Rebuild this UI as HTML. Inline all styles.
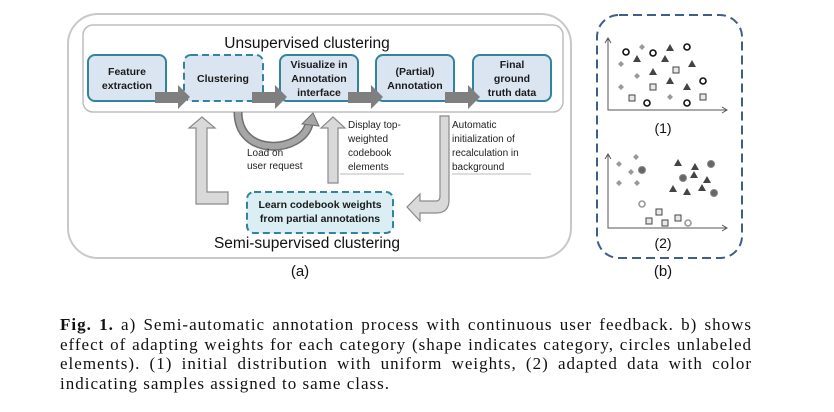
<!DOCTYPE html>
<html><head><meta charset="utf-8"><style>
html,body{margin:0;padding:0;background:#fff;}
svg{display:block;position:absolute;left:0;top:0;}
.b{font-family:"Liberation Sans",sans-serif;font-weight:bold;font-size:10.5px;fill:#1a1a1a;text-anchor:middle;}
.s{font-family:"Liberation Sans",sans-serif;font-size:10px;fill:#222;}
.cap{position:absolute;left:60px;top:315px;width:692px;font-family:"Liberation Serif",serif;font-size:17px;line-height:19.5px;color:#111;letter-spacing:1px;}
.cap div{text-align:justify;text-align-last:justify;white-space:nowrap;}
.cap div.l{text-align-last:left;}
</style></head><body>
<svg width="834" height="412" viewBox="0 0 834 412" xmlns="http://www.w3.org/2000/svg">
<rect x="68" y="14" width="503" height="244" rx="30" fill="#fff" stroke="#c8c8c8" stroke-width="2"/>
<rect x="83" y="25" width="480" height="87" rx="10" fill="#fff" stroke="#bdbdbd" stroke-width="1.5"/>
<text x="307" y="48" font-family="Liberation Sans,sans-serif" font-size="15.5" text-anchor="middle" fill="#111">Unsupervised clustering</text>
<g fill="#dbe5f1" stroke="#31849b" stroke-width="2">
<rect x="88" y="55" width="78" height="46" rx="7"/>
<rect x="184" y="55" width="79" height="46" rx="7" stroke-dasharray="7,4"/>
<rect x="280" y="55" width="78" height="46" rx="7"/>
<rect x="376" y="55" width="78" height="46" rx="7"/>
<rect x="473" y="55" width="78" height="46" rx="7"/>
</g>
<g fill="#7f7f7f">
<polygon points="155,92 178,92 178,85 190,97 178,109 178,103 155,103"/>
<polygon points="252,92 275,92 275,85 287,97 275,109 275,103 252,103"/>
<polygon points="348,92 371,92 371,85 383,97 371,109 371,103 348,103"/>
<polygon points="445,92 468,92 468,85 480,97 468,109 468,103 445,103"/>
</g>
<text class="b" x="127" y="75">Feature</text><text class="b" x="127" y="89">extraction</text>
<text class="b" x="223" y="82">Clustering</text>
<text class="b" x="319" y="68">Visualize in</text><text class="b" x="319" y="82">Annotation</text><text class="b" x="319" y="96">interface</text>
<text class="b" x="415" y="75">(Partial)</text><text class="b" x="415" y="89">Annotation</text>
<text class="b" x="512" y="68">Final</text><text class="b" x="512" y="82">ground</text><text class="b" x="512" y="96">truth data</text>
<g fill="#d9d9d9" stroke="#8a8a8a" stroke-width="1.2">
<polygon points="202,117 215,128 207,128 207,192 228,192 228,204 196,204 196,128 189,128"/>
<polygon points="333,117 345,128 338,128 338,183 328,183 328,128 321,128"/>
<path d="M440,116 L449,116 L449,200 Q449,213 436,213 L420,213 L420,221 L407,207 L420,194 L420,201 L436,201 Q440,201 440,196 Z"/>
</g>
<path d="M238,112 C238,158 302,153 309,124" fill="none" stroke="#6f6f6f" stroke-width="9"/>
<path d="M238,112 C238,158 302,153 309,124" fill="none" stroke="#a6a6a6" stroke-width="6"/>
<polygon points="313,113 319,126 302,124" fill="#a6a6a6" stroke="#6f6f6f" stroke-width="1"/>
<text class="s" x="247" y="156">Load on</text><text class="s" x="247" y="169">user request</text>
<text class="s" x="348" y="128">Display top-</text><text class="s" x="348" y="142">weighted</text><text class="s" x="348" y="156">codebook</text><text class="s" x="348" y="170">elements</text>
<line x1="340" y1="174" x2="404" y2="174" stroke="#bbb"/>
<text class="s" x="452" y="128">Automatic</text><text class="s" x="452" y="142">initialization of</text><text class="s" x="452" y="156">recalculation in</text><text class="s" x="452" y="170">background</text>
<line x1="452" y1="174" x2="531" y2="174" stroke="#bbb"/>
<rect x="247" y="192" width="146" height="41" rx="7" fill="#dbeef3" stroke="#31849b" stroke-width="2" stroke-dasharray="7,4"/>
<text class="b" x="320" y="208">Learn codebook weights</text><text class="b" x="320" y="222">from partial annotations</text>
<text x="307" y="248" font-family="Liberation Sans,sans-serif" font-size="15.5" text-anchor="middle" fill="#111">Semi-supervised clustering</text>
<text x="300" y="276" font-family="Liberation Sans,sans-serif" font-size="15" text-anchor="middle" fill="#111">(a)</text>
<text x="663" y="276" font-family="Liberation Sans,sans-serif" font-size="15" text-anchor="middle" fill="#111">(b)</text>
<rect x="597" y="15" width="145" height="243" rx="22" fill="none" stroke="#3f5f8a" stroke-width="2" stroke-dasharray="9,5"/>
<g stroke="#555" stroke-width="1" fill="none">
<path d="M608,38 L608,110 L727,110"/><path d="M605,43 L608,38 L611,43"/><path d="M722,107 L727,110 L722,113"/>
<path d="M608,154 L608,228 L727,228"/><path d="M605,159 L608,154 L611,159"/><path d="M722,225 L727,228 L722,231"/>
</g>
<text x="663" y="133" font-family="Liberation Sans,sans-serif" font-size="14" text-anchor="middle" fill="#111">(1)</text>
<text x="663" y="248" font-family="Liberation Sans,sans-serif" font-size="14" text-anchor="middle" fill="#111">(2)</text>
<g fill="none" stroke="#111" stroke-width="1.6">
<circle cx="626" cy="52" r="3"/><circle cx="653" cy="53" r="3"/><circle cx="687" cy="47" r="3"/><circle cx="703" cy="81" r="3"/><circle cx="647" cy="103" r="3"/><circle cx="687" cy="103" r="3"/>
</g>
<g fill="#999">
<path d="M642,44 l3,3 -3,3 -3,-3z M621,61 l3,3 -3,3 -3,-3z M637,73 l3,3 -3,3 -3,-3z M621,84 l3,3 -3,3 -3,-3z M670,94 l3,3 -3,3 -3,-3z"/>
<path d="M619,161 l3,3 -3,3 -3,-3z M636,154 l3,3 -3,3 -3,-3z M631,169 l3,3 -3,3 -3,-3z M619,180 l3,3 -3,3 -3,-3z M637,180 l3,3 -3,3 -3,-3z"/>
</g>
<g fill="#444">
<path d="M670,44 l4,7 h-8z M637,55 l4,7 h-8z M665,55 l4,7 h-8z M692,60 l4,7 h-8z M653,68 l4,7 h-8z M670,77 l4,7 h-8z M687,83 l4,7 h-8z"/>
<path d="M678,159 l4,7 h-8z M695,163 l4,7 h-8z M694,171 l4,7 h-8z M707,176 l4,7 h-8z M673,185 l4,7 h-8z M687,188 l4,7 h-8z M702,184 l4,7 h-8z"/>
</g>
<g fill="#e8e8e8" stroke="#444" stroke-width="1">
<rect x="673" y="67" width="6" height="6"/><rect x="650" y="84" width="6" height="6"/><rect x="629" y="95" width="6" height="6"/><rect x="700" y="94" width="6" height="6"/>
<rect x="656" y="209" width="6" height="6"/><rect x="646" y="218" width="6" height="6"/><rect x="662" y="220" width="6" height="6"/><rect x="675" y="215" width="6" height="6"/>
</g>
<g fill="#666" stroke="#888" stroke-width="1">
<circle cx="642" cy="170" r="3.5"/><circle cx="711" cy="164" r="3.5"/><circle cx="683" cy="178" r="3.5"/><circle cx="714" cy="193" r="3.5"/>
</g>
<g fill="none" stroke="#999" stroke-width="1.6"><circle cx="642" cy="204" r="3"/><circle cx="688" cy="223" r="3"/></g>
</svg>
<div class="cap">
<div><b>Fig. 1.</b> a) Semi-automatic annotation process with continuous user feedback. b) shows</div>
<div>effect of adapting weights for each category (shape indicates category, circles unlabeled</div>
<div>elements). (1) initial distribution with uniform weights, (2) adapted data with color</div>
<div class="l">indicating samples assigned to same class.</div>
</div>
</body></html>
